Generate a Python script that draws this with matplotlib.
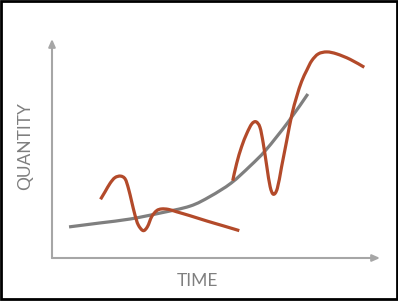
import matplotlib.pyplot as plt
from matplotlib.patches import Rectangle, PathPatch
from matplotlib.path import Path

# trend line (gray) - time / quantity in 0..100 units
trend_t = [5.2, 14.6, 23.8, 32.9, 42.1, 48.2, 54.6, 60.4, 65.2, 72.0, 78.0]
trend_q = [14.2, 16.0, 17.8, 20.5, 23.7, 28.1, 34.2, 42.0, 49.3, 62.1, 74.9]

# first wiggle (orange)
wig1_t = [14.8, 16.2, 17.7, 19.2, 20.9, 22.3, 23.3, 24.3, 25.3, 26.3, 27.8,
          29.1, 30.4, 31.9, 33.4, 35.5, 38.0, 42.1, 47.2, 52.2, 57.1]
wig1_q = [26.8, 30.3, 34.1, 36.7, 37.4, 36.1, 31.8, 25.7, 19.6, 15.1, 12.5,
          14.3, 18.9, 21.6, 22.4, 22.2, 21.1, 19.3, 16.9, 14.7, 12.5]

# second wiggle (orange)
wig2_t = [55.1, 56.3, 57.8, 59.4, 60.9, 62.2, 63.4, 64.4, 65.5, 66.5, 67.5, 68.7,
          70.0, 71.6, 73.1, 74.6, 76.1, 77.7, 79.2, 81.2, 83.8, 86.8, 90.9, 95.2]
wig2_q = [35.3, 43.2, 50.8, 56.9, 61.2, 62.2, 59.7, 52.4, 41.7, 32.6, 29.1, 31.8,
          41.7, 53.9, 65.3, 73.7, 80.6, 85.8, 90.1, 93.2, 94.1, 93.2, 90.7, 87.1]

ORANGE = '#b34a2a'
GRAY = '#7f7f7f'
AXIS = '#a6a6a6'


def smooth_path(xs, ys):
    # Catmull-Rom through the points, drawn as cubic bezier segments
    pts = list(zip(xs, ys))
    verts = [pts[0]]
    codes = [Path.MOVETO]
    for i in range(len(pts) - 1):
        p0 = pts[max(i - 1, 0)]
        p1 = pts[i]
        p2 = pts[i + 1]
        p3 = pts[min(i + 2, len(pts) - 1)]
        c1 = (p1[0] + (p2[0] - p0[0]) / 6, p1[1] + (p2[1] - p0[1]) / 6)
        c2 = (p2[0] - (p3[0] - p1[0]) / 6, p2[1] - (p3[1] - p1[1]) / 6)
        verts += [c1, c2, p2]
        codes += [Path.CURVE4] * 3
    return Path(verts, codes)


fig = plt.figure(figsize=(3.98, 3.03), dpi=100)
ax = fig.add_axes([52/398, 45/303, 328/398, 219/303])
ax.set_xlim(0, 100)
ax.set_ylim(0, 100)
ax.axis('off')

for xs, ys, col in [(trend_t, trend_q, GRAY), (wig1_t, wig1_q, ORANGE), (wig2_t, wig2_q, ORANGE)]:
    ax.add_patch(PathPatch(smooth_path(xs, ys), fill=False, edgecolor=col, lw=2.3,
                           capstyle='butt', joinstyle='round'))

arrow = dict(arrowstyle='-|>,head_length=0.45,head_width=0.2', color=AXIS, lw=1.5,
             shrinkA=0, shrinkB=0)
ax.annotate('', xy=(0, 1), xytext=(0, 0), xycoords='axes fraction', arrowprops=arrow)
ax.annotate('', xy=(1, 0), xytext=(0, 0), xycoords='axes fraction', arrowprops=arrow)

fig.text(197.5/398, 1 - 281.5/303, 'TIME', ha='center', va='center',
         fontsize=12.5, color=GRAY, family='Lato')
fig.text(25.5/398, 1 - 146.5/303, 'QUANTITY', ha='center', va='center', rotation=90,
         fontsize=12.5, color=GRAY, family='Lato')

# frame round the picture
fig.add_artist(Rectangle((1/398, 4/303), 396/398, 298/303, transform=fig.transFigure,
                         fill=False, edgecolor='black', lw=2))

fig.savefig('out.png', dpi=100)
